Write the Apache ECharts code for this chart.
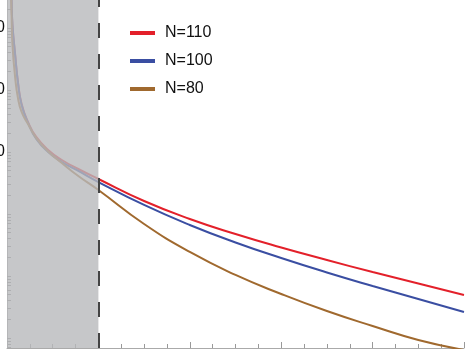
<!DOCTYPE html>
<html>
<head>
    <meta charset="UTF-8">
    <title>N curves</title>
    <script src="https://cdn.jsdelivr.net/npm/echarts@6/dist/echarts.min.js"></script>
    <style>
        html, body { margin: 0; padding: 0; background: #fff; }
        #chart { width: 474px; height: 351px; }
    </style>
</head>
<body>
<div id="chart"></div>
<script>
    // x positions of the sampled points
    var xs = [0.04, 0.05, 0.06, 0.09, 0.12, 0.16, 0.23, 0.32, 0.45, 0.6, 0.78, 1, 1.5, 2, 2.5, 3, 3.5, 4, 4.5, 5];
    var n110 = [12500, 2829, 1117, 367, 135, 59.4, 30.5, 17.5, 10.8, 7.43, 5.32, 3.67, 1.62, 0.830, 0.475, 0.288, 0.181, 0.116, 0.0757, 0.0494];
    var n100 = [12500, 2829, 1117, 353, 130, 57.3, 29.4, 16.2, 10.0, 6.90, 4.94, 3.28, 1.40, 0.665, 0.347, 0.195, 0.114, 0.069, 0.0426, 0.0262];
    var n80 = [5943, 1622, 532, 156, 74.3, 44.2, 28.3, 16.8, 10.2, 6.65, 4.10, 2.44, 0.690, 0.244, 0.104, 0.0513, 0.0272, 0.0156, 0.00929, 0.0064];
    var names = ['N=110', 'N=100', 'N=80'];
    var colors = ['#e3202a', '#3a4ea2', '#a0692e'];
    var decades = [0.01, 0.1, 1, 10, 100, 1000];
    var labelled = [10, 100, 1000];
    var shadeEnd = 1;

    function pairs(ys) {
        return xs.map(function (x, i) { return [x, ys[i]]; });
    }

    // decade ticks plus 2..9 minor ticks
    var yTicks = [];
    [0.001].concat(decades).forEach(function (d) {
        yTicks.push(d);
        for (var m = 2; m <= 9; m++) yTicks.push(+(m * d).toPrecision(3));
    });

    var chart = echarts.init(document.getElementById('chart'), null, { renderer: 'canvas' });

    var series = [n110, n100, n80].map(function (ys, i) {
        return {
            name: names[i],
            type: 'line',
            data: pairs(ys),
            smooth: 0.5,
            showSymbol: false,
            z: 2,
            lineStyle: { color: colors[i], width: 2 },
            itemStyle: { color: colors[i] }
        };
    });

    // shaded region and dashed boundary, drawn on top of the curves
    series.push({
        type: 'line',
        data: [],
        z: 10,
        silent: true,
        markArea: {
            silent: true,
            z: 10,
            itemStyle: { color: 'rgba(184,185,188,0.8)' },
            data: [[{ xAxis: 0 }, { xAxis: shadeEnd }]]
        },
        markLine: {
            silent: true,
            z: 11,
            symbol: 'none',
            label: { show: false },
            lineStyle: { color: '#444', width: 2, type: [15, 16] },
            data: [{ xAxis: shadeEnd }]
        }
    });

    chart.setOption({
        animation: false,
        textStyle: { fontFamily: 'Liberation Sans' },
        grid: { left: 7, right: 10, top: 0, bottom: 3, containLabel: false, outerBoundsMode: 'none' },
        legend: {
            data: names,
            orient: 'vertical',
            left: 125,
            top: 20,
            icon: 'rect',
            itemWidth: 25,
            itemHeight: 4,
            itemGap: 12,
            textStyle: { fontSize: 16, color: '#111', lineHeight: 16, padding: [0, 0, 0, 5] }
        },
        xAxis: {
            type: 'value',
            min: 0,
            max: 5,
            interval: 1,
            axisLine: { show: true, lineStyle: { color: '#aaa', width: 1 } },
            axisTick: { show: true, inside: true, length: 6, lineStyle: { color: '#999' } },
            minorTick: { show: true, splitNumber: 4, length: 4, lineStyle: { color: '#999' } },
            axisLabel: { show: false },
            splitLine: { show: false }
        },
        yAxis: {
            type: 'log',
            logBase: 10,
            min: 0.0069,
            max: 2829,
            axisLine: { show: true, lineStyle: { color: '#aaa', width: 1 } },
            axisTick: { show: true, inside: true, length: 4, customValues: yTicks, lineStyle: { color: '#888' } },
            axisLabel: {
                show: true, customValues: labelled, margin: 2, fontSize: 16, color: '#111',
                formatter: function (v) { return String(v); }
            },
            splitLine: { show: false }
        },
        series: series
    });
</script>
</body>
</html>
